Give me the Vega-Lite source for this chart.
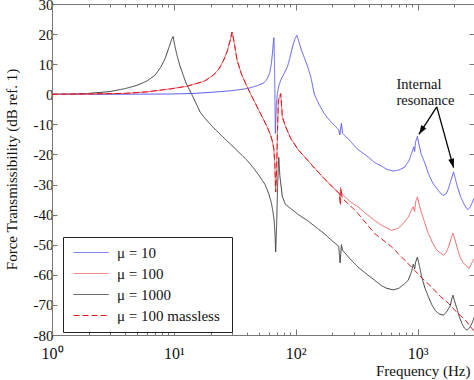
{
  "$schema": "https://vega.github.io/schema/vega-lite/v6.json",
  "width": 422,
  "height": 331,
  "autosize": {"type": "none"},
  "padding": {"left": 52, "top": 4, "right": 0, "bottom": 45},
  "background": "white",
  "config": {
    "font": "Liberation Serif",
    "view": {"stroke": "#777"},
    "axis": {
      "grid": false,
      "domainColor": "#777",
      "tickColor": "#777",
      "labelColor": "#111",
      "labelFont": "Liberation Serif",
      "labelFontSize": 15,
      "titleFont": "Liberation Serif",
      "titleFontSize": 15,
      "titleFontWeight": "normal",
      "titleColor": "#111"
    }
  },
  "resolve": {"axis": {"x": "independent", "y": "independent"}},
  "datasets": {
    "curves": [
      {"s": "μ = 1000", "f": 1, "db": 0},
      {"s": "μ = 1000", "f": 1.5, "db": 0.1},
      {"s": "μ = 1000", "f": 2, "db": 0.3},
      {"s": "μ = 1000", "f": 3, "db": 0.9},
      {"s": "μ = 1000", "f": 4, "db": 1.9},
      {"s": "μ = 1000", "f": 5, "db": 3.0},
      {"s": "μ = 1000", "f": 6, "db": 4.4},
      {"s": "μ = 1000", "f": 7, "db": 6.3},
      {"s": "μ = 1000", "f": 7.8, "db": 9.0},
      {"s": "μ = 1000", "f": 8.5, "db": 12},
      {"s": "μ = 1000", "f": 9.1, "db": 15.5},
      {"s": "μ = 1000", "f": 9.6, "db": 18.3},
      {"s": "μ = 1000", "f": 9.85, "db": 19.2},
      {"s": "μ = 1000", "f": 10.2, "db": 16},
      {"s": "μ = 1000", "f": 10.6, "db": 13},
      {"s": "μ = 1000", "f": 11.2, "db": 9.5},
      {"s": "μ = 1000", "f": 12.5, "db": 4.0},
      {"s": "μ = 1000", "f": 14.4, "db": -1},
      {"s": "μ = 1000", "f": 16.4, "db": -5.9},
      {"s": "μ = 1000", "f": 18, "db": -8},
      {"s": "μ = 1000", "f": 21, "db": -11},
      {"s": "μ = 1000", "f": 25, "db": -14},
      {"s": "μ = 1000", "f": 29, "db": -16.5},
      {"s": "μ = 1000", "f": 35, "db": -19.7},
      {"s": "μ = 1000", "f": 40, "db": -22},
      {"s": "μ = 1000", "f": 46, "db": -25},
      {"s": "μ = 1000", "f": 51, "db": -27.5},
      {"s": "μ = 1000", "f": 56, "db": -30},
      {"s": "μ = 1000", "f": 60, "db": -33},
      {"s": "μ = 1000", "f": 63, "db": -36},
      {"s": "μ = 1000", "f": 65, "db": -39},
      {"s": "μ = 1000", "f": 66.5, "db": -42},
      {"s": "μ = 1000", "f": 67.5, "db": -46},
      {"s": "μ = 1000", "f": 68.4, "db": -52.4},
      {"s": "μ = 1000", "f": 69.5, "db": -45},
      {"s": "μ = 1000", "f": 71, "db": -30},
      {"s": "μ = 1000", "f": 72.5, "db": -21},
      {"s": "μ = 1000", "f": 74, "db": -27},
      {"s": "μ = 1000", "f": 77.6, "db": -34},
      {"s": "μ = 1000", "f": 82, "db": -36.5},
      {"s": "μ = 1000", "f": 91, "db": -38},
      {"s": "μ = 1000", "f": 105, "db": -40},
      {"s": "μ = 1000", "f": 125, "db": -42},
      {"s": "μ = 1000", "f": 150, "db": -44.5},
      {"s": "μ = 1000", "f": 171, "db": -46.3},
      {"s": "μ = 1000", "f": 200, "db": -48.8},
      {"s": "μ = 1000", "f": 225, "db": -50.5},
      {"s": "μ = 1000", "f": 231, "db": -56},
      {"s": "μ = 1000", "f": 234, "db": -53},
      {"s": "μ = 1000", "f": 237, "db": -50},
      {"s": "μ = 1000", "f": 242, "db": -51.8},
      {"s": "μ = 1000", "f": 276, "db": -54.5},
      {"s": "μ = 1000", "f": 324, "db": -57.4},
      {"s": "μ = 1000", "f": 380, "db": -59.7},
      {"s": "μ = 1000", "f": 444, "db": -61.8},
      {"s": "μ = 1000", "f": 504, "db": -63.6},
      {"s": "μ = 1000", "f": 560, "db": -64.5},
      {"s": "μ = 1000", "f": 630, "db": -65},
      {"s": "μ = 1000", "f": 700, "db": -64.5},
      {"s": "μ = 1000", "f": 780, "db": -63},
      {"s": "μ = 1000", "f": 838, "db": -61.8},
      {"s": "μ = 1000", "f": 890, "db": -59},
      {"s": "μ = 1000", "f": 921, "db": -56.5},
      {"s": "μ = 1000", "f": 945, "db": -58},
      {"s": "μ = 1000", "f": 960, "db": -56},
      {"s": "μ = 1000", "f": 995, "db": -54.1},
      {"s": "μ = 1000", "f": 1040, "db": -57.5},
      {"s": "μ = 1000", "f": 1079, "db": -60.7},
      {"s": "μ = 1000", "f": 1150, "db": -64.5},
      {"s": "μ = 1000", "f": 1225, "db": -67.3},
      {"s": "μ = 1000", "f": 1310, "db": -70},
      {"s": "μ = 1000", "f": 1390, "db": -71.8},
      {"s": "μ = 1000", "f": 1500, "db": -73},
      {"s": "μ = 1000", "f": 1631, "db": -73.4},
      {"s": "μ = 1000", "f": 1750, "db": -72},
      {"s": "μ = 1000", "f": 1850, "db": -70.3},
      {"s": "μ = 1000", "f": 1920, "db": -67.5},
      {"s": "μ = 1000", "f": 1950, "db": -66.8},
      {"s": "μ = 1000", "f": 2000, "db": -68.5},
      {"s": "μ = 1000", "f": 2100, "db": -71.2},
      {"s": "μ = 1000", "f": 2200, "db": -74},
      {"s": "μ = 1000", "f": 2310, "db": -76.2},
      {"s": "μ = 1000", "f": 2420, "db": -77.7},
      {"s": "μ = 1000", "f": 2540, "db": -78.4},
      {"s": "μ = 1000", "f": 2680, "db": -77.5},
      {"s": "μ = 1000", "f": 2800, "db": -76},
      {"s": "μ = 1000", "f": 2950, "db": -73.5},

      {"s": "μ = 10", "f": 1, "db": 0},
      {"s": "μ = 10", "f": 3, "db": 0},
      {"s": "μ = 10", "f": 10, "db": 0.1},
      {"s": "μ = 10", "f": 15, "db": 0.3},
      {"s": "μ = 10", "f": 21, "db": 0.7},
      {"s": "μ = 10", "f": 30, "db": 1.2},
      {"s": "μ = 10", "f": 40, "db": 1.9},
      {"s": "μ = 10", "f": 48, "db": 2.8},
      {"s": "μ = 10", "f": 54.7, "db": 3.8},
      {"s": "μ = 10", "f": 58, "db": 5},
      {"s": "μ = 10", "f": 61, "db": 7},
      {"s": "μ = 10", "f": 63, "db": 10},
      {"s": "μ = 10", "f": 64.5, "db": 14},
      {"s": "μ = 10", "f": 65.6, "db": 17.5},
      {"s": "μ = 10", "f": 66.2, "db": 18.8},
      {"s": "μ = 10", "f": 66.8, "db": 12},
      {"s": "μ = 10", "f": 67.4, "db": 0},
      {"s": "μ = 10", "f": 68, "db": -13},
      {"s": "μ = 10", "f": 68.7, "db": -8},
      {"s": "μ = 10", "f": 69.5, "db": -3},
      {"s": "μ = 10", "f": 70.6, "db": 0.2},
      {"s": "μ = 10", "f": 72.5, "db": 2.6},
      {"s": "μ = 10", "f": 75.2, "db": 4.7},
      {"s": "μ = 10", "f": 80, "db": 6.8},
      {"s": "μ = 10", "f": 85.4, "db": 9.1},
      {"s": "μ = 10", "f": 90, "db": 12.5},
      {"s": "μ = 10", "f": 94, "db": 15.7},
      {"s": "μ = 10", "f": 98, "db": 18.2},
      {"s": "μ = 10", "f": 102, "db": 19.6},
      {"s": "μ = 10", "f": 106, "db": 17.5},
      {"s": "μ = 10", "f": 111, "db": 14.8},
      {"s": "μ = 10", "f": 117, "db": 12.4},
      {"s": "μ = 10", "f": 125, "db": 9.3},
      {"s": "μ = 10", "f": 133, "db": 5.7},
      {"s": "μ = 10", "f": 142, "db": 0},
      {"s": "μ = 10", "f": 155, "db": -3.3},
      {"s": "μ = 10", "f": 171, "db": -6.4},
      {"s": "μ = 10", "f": 190, "db": -8.7},
      {"s": "μ = 10", "f": 207, "db": -10.3},
      {"s": "μ = 10", "f": 225, "db": -11.8},
      {"s": "μ = 10", "f": 230, "db": -13.5},
      {"s": "μ = 10", "f": 233, "db": -11.5},
      {"s": "μ = 10", "f": 237, "db": -9.7},
      {"s": "μ = 10", "f": 242, "db": -13},
      {"s": "μ = 10", "f": 276, "db": -15.3},
      {"s": "μ = 10", "f": 320, "db": -18.2},
      {"s": "μ = 10", "f": 391, "db": -20.8},
      {"s": "μ = 10", "f": 444, "db": -22.7},
      {"s": "μ = 10", "f": 504, "db": -23.8},
      {"s": "μ = 10", "f": 560, "db": -25},
      {"s": "μ = 10", "f": 630, "db": -25.5},
      {"s": "μ = 10", "f": 700, "db": -25.2},
      {"s": "μ = 10", "f": 785, "db": -24.2},
      {"s": "μ = 10", "f": 850, "db": -22},
      {"s": "μ = 10", "f": 891, "db": -19.7},
      {"s": "μ = 10", "f": 930, "db": -17.5},
      {"s": "μ = 10", "f": 945, "db": -19},
      {"s": "μ = 10", "f": 960, "db": -16},
      {"s": "μ = 10", "f": 995, "db": -14},
      {"s": "μ = 10", "f": 1030, "db": -17},
      {"s": "μ = 10", "f": 1065, "db": -19.7},
      {"s": "μ = 10", "f": 1150, "db": -23},
      {"s": "μ = 10", "f": 1225, "db": -26.4},
      {"s": "μ = 10", "f": 1330, "db": -29.5},
      {"s": "μ = 10", "f": 1436, "db": -31.3},
      {"s": "μ = 10", "f": 1550, "db": -33},
      {"s": "μ = 10", "f": 1631, "db": -33.6},
      {"s": "μ = 10", "f": 1720, "db": -33},
      {"s": "μ = 10", "f": 1793, "db": -31.3},
      {"s": "μ = 10", "f": 1880, "db": -28.5},
      {"s": "μ = 10", "f": 1972, "db": -25.8},
      {"s": "μ = 10", "f": 2050, "db": -28.5},
      {"s": "μ = 10", "f": 2142, "db": -31.3},
      {"s": "μ = 10", "f": 2250, "db": -34},
      {"s": "μ = 10", "f": 2388, "db": -36.3},
      {"s": "μ = 10", "f": 2500, "db": -37.8},
      {"s": "μ = 10", "f": 2589, "db": -38.3},
      {"s": "μ = 10", "f": 2700, "db": -37.5},
      {"s": "μ = 10", "f": 2860, "db": -35.2},
      {"s": "μ = 10", "f": 3000, "db": -33.5},

      {"s": "μ = 100", "f": 1, "db": 0},
      {"s": "μ = 100", "f": 2, "db": 0.1},
      {"s": "μ = 100", "f": 4, "db": 0.3},
      {"s": "μ = 100", "f": 6, "db": 0.8},
      {"s": "μ = 100", "f": 9.4, "db": 1.8},
      {"s": "μ = 100", "f": 12.9, "db": 2.7},
      {"s": "μ = 100", "f": 15.4, "db": 3.6},
      {"s": "μ = 100", "f": 17.7, "db": 4.3},
      {"s": "μ = 100", "f": 21, "db": 6.3},
      {"s": "μ = 100", "f": 23.5, "db": 8.5},
      {"s": "μ = 100", "f": 25.6, "db": 11.3},
      {"s": "μ = 100", "f": 27.5, "db": 14.5},
      {"s": "μ = 100", "f": 29, "db": 18},
      {"s": "μ = 100", "f": 30, "db": 20.7},
      {"s": "μ = 100", "f": 31, "db": 18},
      {"s": "μ = 100", "f": 33, "db": 11.3},
      {"s": "μ = 100", "f": 36, "db": 6.5},
      {"s": "μ = 100", "f": 40, "db": 2.4},
      {"s": "μ = 100", "f": 44, "db": -1},
      {"s": "μ = 100", "f": 48.2, "db": -4.2},
      {"s": "μ = 100", "f": 53, "db": -7.5},
      {"s": "μ = 100", "f": 58.4, "db": -10.9},
      {"s": "μ = 100", "f": 62, "db": -13.5},
      {"s": "μ = 100", "f": 64, "db": -15.3},
      {"s": "μ = 100", "f": 66, "db": -18},
      {"s": "μ = 100", "f": 67.3, "db": -23},
      {"s": "μ = 100", "f": 68.4, "db": -32.5},
      {"s": "μ = 100", "f": 69.5, "db": -27},
      {"s": "μ = 100", "f": 70.8, "db": -12},
      {"s": "μ = 100", "f": 72, "db": -2},
      {"s": "μ = 100", "f": 75.2, "db": 0.2},
      {"s": "μ = 100", "f": 76.5, "db": -4},
      {"s": "μ = 100", "f": 77.6, "db": -7.5},
      {"s": "μ = 100", "f": 82, "db": -10.5},
      {"s": "μ = 100", "f": 91, "db": -14.7},
      {"s": "μ = 100", "f": 105, "db": -18.5},
      {"s": "μ = 100", "f": 125, "db": -21.9},
      {"s": "μ = 100", "f": 150, "db": -25.5},
      {"s": "μ = 100", "f": 171, "db": -28},
      {"s": "μ = 100", "f": 200, "db": -30.8},
      {"s": "μ = 100", "f": 228, "db": -33},
      {"s": "μ = 100", "f": 231, "db": -35},
      {"s": "μ = 100", "f": 233, "db": -31},
      {"s": "μ = 100", "f": 237, "db": -33},
      {"s": "μ = 100", "f": 276, "db": -35.5},
      {"s": "μ = 100", "f": 324, "db": -37.4},
      {"s": "μ = 100", "f": 380, "db": -39.8},
      {"s": "μ = 100", "f": 444, "db": -41.9},
      {"s": "μ = 100", "f": 504, "db": -43.5},
      {"s": "μ = 100", "f": 610, "db": -45.2},
      {"s": "μ = 100", "f": 692, "db": -44.6},
      {"s": "μ = 100", "f": 760, "db": -43},
      {"s": "μ = 100", "f": 838, "db": -40.8},
      {"s": "μ = 100", "f": 890, "db": -38.5},
      {"s": "μ = 100", "f": 921, "db": -37.4},
      {"s": "μ = 100", "f": 945, "db": -39},
      {"s": "μ = 100", "f": 960, "db": -36},
      {"s": "μ = 100", "f": 995, "db": -34.1},
      {"s": "μ = 100", "f": 1035, "db": -37},
      {"s": "μ = 100", "f": 1079, "db": -39.6},
      {"s": "μ = 100", "f": 1150, "db": -43},
      {"s": "μ = 100", "f": 1225, "db": -46.3},
      {"s": "μ = 100", "f": 1330, "db": -49.5},
      {"s": "μ = 100", "f": 1436, "db": -51.8},
      {"s": "μ = 100", "f": 1631, "db": -53.5},
      {"s": "μ = 100", "f": 1720, "db": -52.5},
      {"s": "μ = 100", "f": 1793, "db": -50.7},
      {"s": "μ = 100", "f": 1880, "db": -48},
      {"s": "μ = 100", "f": 1946, "db": -46.1},
      {"s": "μ = 100", "f": 2030, "db": -48.5},
      {"s": "μ = 100", "f": 2142, "db": -51.8},
      {"s": "μ = 100", "f": 2250, "db": -54.5},
      {"s": "μ = 100", "f": 2388, "db": -56.2},
      {"s": "μ = 100", "f": 2640, "db": -57.9},
      {"s": "μ = 100", "f": 2860, "db": -55.1},
      {"s": "μ = 100", "f": 3000, "db": -54},

      {"s": "μ = 100  massless", "f": 1, "db": 0},
      {"s": "μ = 100  massless", "f": 2, "db": 0.1},
      {"s": "μ = 100  massless", "f": 4, "db": 0.3},
      {"s": "μ = 100  massless", "f": 6, "db": 0.8},
      {"s": "μ = 100  massless", "f": 9.4, "db": 1.8},
      {"s": "μ = 100  massless", "f": 12.9, "db": 2.7},
      {"s": "μ = 100  massless", "f": 15.4, "db": 3.6},
      {"s": "μ = 100  massless", "f": 17.7, "db": 4.3},
      {"s": "μ = 100  massless", "f": 21, "db": 6.3},
      {"s": "μ = 100  massless", "f": 23.5, "db": 8.5},
      {"s": "μ = 100  massless", "f": 25.6, "db": 11.3},
      {"s": "μ = 100  massless", "f": 27.5, "db": 14.5},
      {"s": "μ = 100  massless", "f": 29, "db": 18},
      {"s": "μ = 100  massless", "f": 30, "db": 20.7},
      {"s": "μ = 100  massless", "f": 31, "db": 18},
      {"s": "μ = 100  massless", "f": 33, "db": 11.3},
      {"s": "μ = 100  massless", "f": 36, "db": 6.5},
      {"s": "μ = 100  massless", "f": 40, "db": 2.4},
      {"s": "μ = 100  massless", "f": 44, "db": -1},
      {"s": "μ = 100  massless", "f": 48.2, "db": -4.2},
      {"s": "μ = 100  massless", "f": 53, "db": -7.5},
      {"s": "μ = 100  massless", "f": 58.4, "db": -10.9},
      {"s": "μ = 100  massless", "f": 62, "db": -13.5},
      {"s": "μ = 100  massless", "f": 64, "db": -15.3},
      {"s": "μ = 100  massless", "f": 66, "db": -18},
      {"s": "μ = 100  massless", "f": 67.3, "db": -23},
      {"s": "μ = 100  massless", "f": 68.4, "db": -32.5},
      {"s": "μ = 100  massless", "f": 69.5, "db": -27},
      {"s": "μ = 100  massless", "f": 70.8, "db": -12},
      {"s": "μ = 100  massless", "f": 72, "db": -2},
      {"s": "μ = 100  massless", "f": 75.2, "db": 0.2},
      {"s": "μ = 100  massless", "f": 76.5, "db": -4},
      {"s": "μ = 100  massless", "f": 77.6, "db": -7.5},
      {"s": "μ = 100  massless", "f": 82, "db": -10.5},
      {"s": "μ = 100  massless", "f": 91, "db": -14.7},
      {"s": "μ = 100  massless", "f": 105, "db": -18.5},
      {"s": "μ = 100  massless", "f": 125, "db": -21.9},
      {"s": "μ = 100  massless", "f": 150, "db": -25.5},
      {"s": "μ = 100  massless", "f": 171, "db": -28},
      {"s": "μ = 100  massless", "f": 200, "db": -30.8},
      {"s": "μ = 100  massless", "f": 228, "db": -33},
      {"s": "μ = 100  massless", "f": 232, "db": -36.9},
      {"s": "μ = 100  massless", "f": 236, "db": -31.5},
      {"s": "μ = 100  massless", "f": 240, "db": -34.5},
      {"s": "μ = 100  massless", "f": 280, "db": -37},
      {"s": "μ = 100  massless", "f": 324, "db": -39.6},
      {"s": "μ = 100  massless", "f": 380, "db": -43},
      {"s": "μ = 100  massless", "f": 444, "db": -46.3},
      {"s": "μ = 100  massless", "f": 504, "db": -48},
      {"s": "μ = 100  massless", "f": 610, "db": -50.7},
      {"s": "μ = 100  massless", "f": 692, "db": -52.9},
      {"s": "μ = 100  massless", "f": 800, "db": -55.5},
      {"s": "μ = 100  massless", "f": 945, "db": -58.5},
      {"s": "μ = 100  massless", "f": 1100, "db": -61.3},
      {"s": "μ = 100  massless", "f": 1300, "db": -64},
      {"s": "μ = 100  massless", "f": 1550, "db": -67.3},
      {"s": "μ = 100  massless", "f": 1793, "db": -69.5},
      {"s": "μ = 100  massless", "f": 2100, "db": -72.5},
      {"s": "μ = 100  massless", "f": 2470, "db": -75.1},
      {"s": "μ = 100  massless", "f": 2860, "db": -78.4},
      {"s": "μ = 100  massless", "f": 3000, "db": -79}
    ],
    "arrows": [
      {"id": "a", "f0": 1436, "d0": -4.2, "f1": 1025, "d1": -13.3},
      {"id": "b", "f0": 1436, "d0": -4.2, "f1": 1972, "d1": -24.4}
    ],
    "note": [
      {"f": 670, "db": 1.9, "label": ["Internal", "resonance"]}
    ]
  },
  "layer": [
    {
      "data": {"name": "curves"},
      "mark": {"type": "line", "clip": true, "strokeJoin": "round"},
      "encoding": {
        "x": {
          "field": "f", "type": "quantitative",
          "scale": {"type": "log", "domain": [1, 2900], "nice": false},
          "axis": {
            "orient": "bottom",
            "title": "Frequency (Hz)",
            "titleAnchor": "end",
            "titleAlign": "right",
            "titleBaseline": "alphabetic",
            "titleX": 418,
            "titleY": 40,
            "values": [1,2,3,4,5,6,7,8,9,10,20,30,40,50,60,70,80,90,100,200,300,400,500,600,700,800,900,1000,2000],
            "labelExpr": "datum.value==1?'10⁰':datum.value==10?'10¹':datum.value==100?'10²':datum.value==1000?'10³':''",
            "labelOverlap": false,
            "labelFlush": false,
            "labelPadding": 16,
            "labelFontSize": 16,
            "tickSize": {"condition": {"test": "datum.value==1||datum.value==10||datum.value==100||datum.value==1000", "value": -6}, "value": -3}
          }
        },
        "y": {
          "field": "db", "type": "quantitative",
          "scale": {"domain": [-80, 30], "nice": false},
          "axis": {
            "orient": "left",
            "title": "Force Transmissibility (dB ref. 1)",
            "values": [-80,-70,-60,-50,-40,-30,-20,-10,0,10,20,30],
            "labelExpr": "'' + datum.value",
            "tickSize": -5,
            "labelPadding": 4,
            "titleX": -48,
            "titleY": 165,
            "titleAlign": "center",
            "titleBaseline": "top",
            "titleAngle": -90
          }
        },
        "color": {
          "field": "s", "type": "nominal",
          "scale": {"domain": ["μ = 10", "μ = 100", "μ = 1000", "μ = 100  massless"], "range": ["#5a5af0", "#f26262", "#3a3a3a", "#e0161b"]},
          "legend": {
            "title": null, "orient": "none", "legendX": 11, "legendY": 233,
            "strokeColor": "#222", "fillColor": "white", "padding": 8,
            "symbolType": "M-1,0L6,0", "symbolSize": 100, "symbolStrokeWidth": 2.5,
            "labelFont": "Liberation Serif", "labelFontSize": 15, "labelColor": "#111",
            "rowPadding": 5, "labelOffset": 31, "labelLimit": 300
          }
        },
        "strokeDash": {
          "field": "s", "type": "nominal",
          "scale": {"domain": ["μ = 10", "μ = 100", "μ = 1000", "μ = 100  massless"], "range": [[1, 0], [1, 0], [1, 0], [6, 3]]},
          "legend": {
            "title": null, "orient": "none", "legendX": 11, "legendY": 233,
            "strokeColor": "#222", "fillColor": "white", "padding": 8,
            "symbolType": "M-1,0L6,0", "symbolSize": 100, "symbolStrokeWidth": 2.5,
            "labelFont": "Liberation Serif", "labelFontSize": 15, "labelColor": "#111",
            "rowPadding": 5, "labelOffset": 31, "labelLimit": 300
          }
        },
        "strokeWidth": {
          "field": "s", "type": "nominal",
          "scale": {"domain": ["μ = 10", "μ = 100", "μ = 1000", "μ = 100  massless"], "range": [1, 1, 1, 2.2]},
          "legend": null
        }
      }
    },
    {
      "data": {"name": "arrows"},
      "mark": {"type": "rule", "color": "#000", "strokeWidth": 1.3},
      "encoding": {
        "x": {"field": "f0", "type": "quantitative", "axis": {"orient": "top", "title": null, "labels": false, "domain": false, "values": [1,2,3,4,5,6,7,8,9,10,20,30,40,50,60,70,80,90,100,200,300,400,500,600,700,800,900,1000,2000], "tickSize": {"condition": {"test": "datum.value==1||datum.value==10||datum.value==100||datum.value==1000", "value": -6}, "value": -3}}},
        "y": {"field": "d0", "type": "quantitative", "axis": {"orient": "right", "title": null, "labels": false, "domain": false, "values": [-80,-70,-60,-50,-40,-30,-20,-10,0,10,20,30], "tickSize": -5}},
        "x2": {"field": "f1"},
        "y2": {"field": "d1"}
      }
    },
    {
      "data": {"name": "arrows"},
      "transform": [{"filter": "datum.id == 'a'"}],
      "mark": {"type": "point", "shape": "M0,0L-1,-3L1,-3Z", "size": 36, "filled": true, "color": "#000", "opacity": 1, "angle": 33},
      "encoding": {
        "x": {"field": "f1", "type": "quantitative", "axis": null},
        "y": {"field": "d1", "type": "quantitative", "axis": null}
      }
    },
    {
      "data": {"name": "arrows"},
      "transform": [{"filter": "datum.id == 'b'"}],
      "mark": {"type": "point", "shape": "M0,0L-1,-3L1,-3Z", "size": 36, "filled": true, "color": "#000", "opacity": 1, "angle": -15.4},
      "encoding": {
        "x": {"field": "f1", "type": "quantitative", "axis": null},
        "y": {"field": "d1", "type": "quantitative", "axis": null}
      }
    },
    {
      "data": {"name": "note"},
      "mark": {"type": "text", "align": "left", "baseline": "alphabetic", "font": "Liberation Serif", "fontSize": 14.5, "lineHeight": 16.5, "color": "#111"},
      "encoding": {
        "x": {"field": "f", "type": "quantitative", "axis": null},
        "y": {"field": "db", "type": "quantitative", "axis": null},
        "text": {"field": "label"}
      }
    }
  ]
}
